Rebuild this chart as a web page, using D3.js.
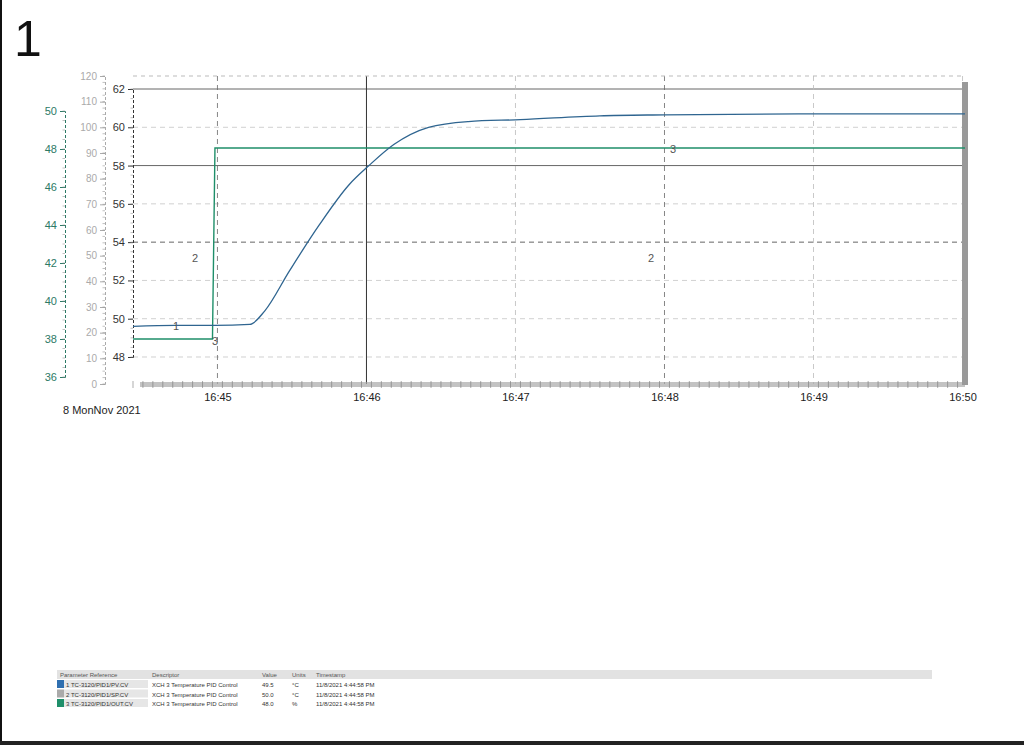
<!DOCTYPE html><html><head><meta charset="utf-8">
<script src="https://cdn.jsdelivr.net/npm/d3@7"></script>
<style>body{margin:0;background:#fff}text{font-family:"Liberation Sans",Arial,sans-serif}</style></head><body>
<svg id="c" width="1024" height="745"></svg>
<script>
// time in seconds after 16:44:00
const pvTime = [26,43,59,73,79,89,101,113,121,131,145,161,182,214,240,294,361];
const pvValue = [49.6,49.65,49.65,49.7,50.4,52.5,54.9,57.0,58.0,59.1,60.0,60.3,60.4,60.6,60.65,60.7,60.7];
const outTime = [26,58,59,361];
const outValue = [38,38,48,48];
const timeTicks = [60,120,180,240,300,360];
const timeLabels = ["16:45","16:46","16:47","16:48","16:49","16:50"];
const pvTicks = [48,50,52,54,56,58,60,62];
const spTicks = [0,10,20,30,40,50,60,70,80,90,100,110,120];
const outTicks = [36,38,40,42,44,46,48,50];
const legendRows = [
 ["1 TC-3120/PID1/PV.CV","XCH 3 Temperature PID Control","49.5","°C","11/8/2021 4:44:58 PM","#2f6fb0"],
 ["2 TC-3120/PID1/SP.CV","XCH 3 Temperature PID Control","50.0","°C","11/8/2021 4:44:58 PM","#aaaaaa"],
 ["3 TC-3120/PID1/OUT.CV","XCH 3 Temperature PID Control","48.0","%","11/8/2021 4:44:58 PM","#1f8f6a"]];

const svg=d3.select("#c");
const x=d3.scaleLinear().domain([26,361]).range([133,965]);
const yPV=d3.scaleLinear().domain([48,62]).range([357,89]);
const ySP=d3.scaleLinear().domain([0,120]).range([384,76]);
const yOUT=d3.scaleLinear().domain([38,48]).range([339,148]);

// page border
svg.append("rect").attr("x",0).attr("y",0).attr("width",2).attr("height",745).attr("fill","#111");
svg.append("rect").attr("x",0).attr("y",741).attr("width",1024).attr("height",4).attr("fill","#222");
svg.append("text").attr("x",14).attr("y",56).attr("font-size",50).attr("fill","#111").text("1");

// grid
const g=svg.append("g");
pvTicks.forEach(v=>{const strong=(v==62||v==58||v==54);
 g.append("line").attr("x1",133).attr("x2",965).attr("y1",yPV(v)).attr("y2",yPV(v))
  .attr("stroke",strong?"#555":"#bbb").attr("stroke-width",strong?0.9:0.7).attr("stroke-dasharray",v==62||v==58?null:"5,4");});
timeTicks.forEach(t=>{const strong=(t==120);
 g.append("line").attr("x1",x(t)).attr("x2",x(t)).attr("y1",76).attr("y2",384)
  .attr("stroke",strong?"#333":(t==60||t==240?"#666":"#bbb")).attr("stroke-width",strong?1:0.8).attr("stroke-dasharray",strong?null:"5,4");});
g.append("line").attr("x1",133).attr("x2",965).attr("y1",76).attr("y2",76).attr("stroke","#bbb").attr("stroke-dasharray","4,4");

// bottom hatch band
svg.append("rect").attr("x",140).attr("y",382).attr("width",825).attr("height",5).attr("fill","#aaa").attr("opacity",0.7);
d3.range(26,361,4).forEach(t=>svg.append("line").attr("x1",x(t)).attr("x2",x(t)).attr("y1",381).attr("y2",388).attr("stroke","#777").attr("stroke-width",0.6));
// right scroll bar
svg.append("rect").attr("x",962).attr("y",82).attr("width",6).attr("height",303).attr("fill","#999");

// axes
const ax=(scale,ticks,xp,col,fs,fmt)=>{const a=svg.append("g").attr("transform",`translate(${xp},0)`)
 .call(d3.axisLeft(scale).tickValues(ticks).tickSize(5).tickFormat(fmt||d3.format("d")));
 a.selectAll("path,line").attr("stroke",col); a.selectAll("text").attr("fill",col).attr("font-size",fs);
 a.select(".domain").attr("stroke-dasharray","3,2"); return a;};
ax(yOUT.copy().domain([36,50]).range([377,111]),outTicks,65,"#2d7a66",11);
ax(ySP,spTicks,105,"#aaa",10);
ax(yPV,pvTicks,133,"#333",11);
// minor ticks
[[yPV,d3.range(48,62.01,0.5),133],[ySP,d3.range(0,120.1,2.5),105],[d3.scaleLinear().domain([36,50]).range([377,111]),d3.range(36,50.01,0.5),65]].forEach(([s,r,xp])=>
 r.forEach(v=>svg.append("line").attr("x1",xp-2.5).attr("x2",xp).attr("y1",s(v)).attr("y2",s(v)).attr("stroke","#999").attr("stroke-width",0.6)));

const xa=svg.append("g").attr("transform","translate(0,388)").call(d3.axisBottom(x).tickValues(timeTicks).tickSize(0).tickFormat((d,i)=>timeLabels[i]));
xa.select(".domain").remove(); xa.selectAll("text").attr("font-size",11).attr("fill","#222").attr("dy","0.9em");
svg.append("text").attr("x",63).attr("y",414).attr("font-size",11).attr("fill","#222").text("8 MonNov 2021");

// lines
svg.append("path").datum(outTime.map((t,i)=>[t,outValue[i]])).attr("fill","none").attr("stroke","#1f8f6a").attr("stroke-width",1.4)
 .attr("d",d3.line().x(d=>x(d[0])).y(d=>yOUT(d[1])));
svg.append("path").datum(pvTime.map((t,i)=>[t,pvValue[i]])).attr("fill","none").attr("stroke","#2f6590").attr("stroke-width",1.3)
 .attr("d",d3.line().curve(d3.curveMonotoneX).x(d=>x(d[0])).y(d=>yPV(d[1])));

const lab=(xx,yy,t)=>svg.append("text").attr("x",xx).attr("y",yy).attr("font-size",11).attr("fill","#555").attr("text-anchor","middle").text(t);
lab(195,262,"2");lab(651,262,"2");lab(673,153,"3");lab(176,330,"1");lab(215,345,"3");

// legend table
const lt=svg.append("g").attr("font-size",6).attr("fill","#333");
lt.append("rect").attr("x",57).attr("y",670).attr("width",875).attr("height",9).attr("fill","#e2e2e2");
const cols=[60,152,262,292,316];
["Parameter Reference","Descriptor","Value","Units","Timestamp"].forEach((h,i)=>lt.append("text").attr("x",cols[i]).attr("y",677).attr("fill","#555").attr("font-size",6).text(h));
legendRows.forEach((r,j)=>{const yy=687+j*9.5;
 lt.append("rect").attr("x",57).attr("y",yy-7).attr("width",7).attr("height",8).attr("fill",r[5]);
 lt.append("rect").attr("x",64).attr("y",yy-7).attr("width",84).attr("height",8).attr("fill","#e6e6e6");
 lt.append("text").attr("x",66).attr("y",yy).attr("font-size",6).attr("fill","#333").text(r[0]);
 [1,2,3,4].forEach(k=>lt.append("text").attr("x",cols[k]).attr("y",yy).attr("font-size",6).attr("fill","#333").text(r[k]));});
</script></body></html>
